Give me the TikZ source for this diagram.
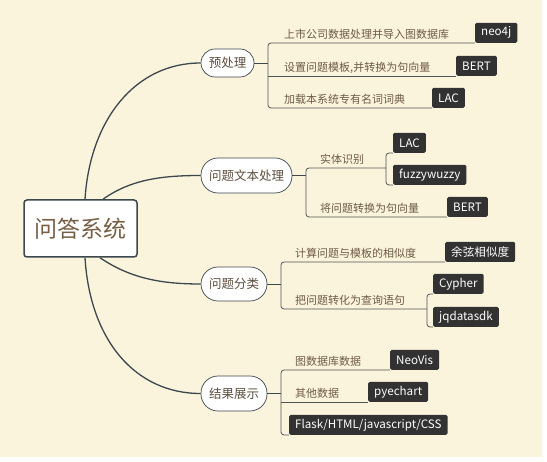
\documentclass[tikz,border=0pt]{standalone}
\usepackage{fontspec}
\setmainfont{Noto Sans CJK SC}
\definecolor{bg}{HTML}{FBF4DD}
\definecolor{linec}{HTML}{3D474E}
\definecolor{subc}{HTML}{4F5457}
\definecolor{tagc}{HTML}{323232}
\definecolor{txtc}{HTML}{6E5A44}
\definecolor{brc}{HTML}{5E4E3E}
\definecolor{rootc}{HTML}{775F46}
\begin{document}
\begin{tikzpicture}[x=1pt,y=-1pt,
  rootbox/.style={draw=linec, line width=1.5pt, fill=white, rounded corners=3pt, minimum width=113pt, minimum height=57pt, text=rootc, font=\fontsize{23}{26}\selectfont, inner sep=0pt},
  pill/.style={draw=linec, line width=0.7pt, fill=white, rounded corners=14pt, text=brc, font=\fontsize{12.5}{14}\selectfont, inner sep=0pt},
  tag/.style={fill=tagc, rounded corners=1.5pt, text=white, font=\fontsize{11.6}{13}\selectfont, minimum height=20pt, inner xsep=6pt, inner ysep=0pt, anchor=south west},
  lbl/.style={text=txtc, font=\fontsize{11}{13}\selectfont, inner sep=0pt, anchor=base west},
  branch/.style={draw=linec, line width=1.3pt},
  subl/.style={draw=subc, line width=0.8pt, rounded corners=3pt}
]
\useasboundingbox (0,0) rectangle (547,462);
\fill[white] (0,0) rectangle (547,462);
\fill[bg] (0,0) rectangle (542,457);

% root and branches
\node[rootbox] (root) at (80.5,228.5) {问答系统};
\node[pill, minimum width=53pt, minimum height=28pt] (b1) at (227.5,63) {预处理};
\node[pill, minimum width=91pt, minimum height=35pt, rounded corners=17pt] (b2) at (246.5,175.5) {问题文本处理};
\node[pill, minimum width=66pt, minimum height=34pt, rounded corners=17pt] (b3) at (234,284) {问题分类};
\node[pill, minimum width=66pt, minimum height=35pt, rounded corners=17pt] (b4) at (234,393.5) {结果展示};

\draw[branch] ([xshift=4.5pt]root.north) .. controls (90,120) and (135,63) .. (b1.west);
\draw[branch] ([xshift=22.5pt]root.north) .. controls (130,180) and (160,175.5) .. (b2.west);
\draw[branch] ([xshift=19.5pt]root.south) .. controls (130,278) and (160,284) .. (b3.west);
\draw[branch] ([xshift=4.5pt]root.south) .. controls (90,340) and (135,393.5) .. (b4.west);

% bracket x positions
\coordinate (k1) at (268,0);
\coordinate (k2) at (306,0);
\coordinate (k2b) at (386,0);
\coordinate (k3) at (281,0);
\coordinate (k3b) at (427,0);
\coordinate (k4) at (281,0);

% ---- 预处理
\node[tag] (n1) at (475,43) {neo4j};
\node[tag] (n2) at (456,76) {BERT};
\node[tag] (n3) at (432,108) {LAC};
\node[lbl] (t1) at (284,39) {上市公司数据处理并导入图数据库};
\node[lbl] (t2) at (284,72) {设置问题模板,并转换为句向量};
\node[lbl] (t3) at (284,104) {加载本系统专有名词词典};
\draw[subl] (n1.south west) -- (k1 |- n1.south west) -- (k1 |- n3.south west) -- (n3.south west);
\draw[subl] (k1 |- n2.south west) -- (n2.south west);
\draw[branch, line width=0.9pt] (b1.east) -- (k1 |- b1.east);

% ---- 问题文本处理
\node[tag] (n4) at (393,153) {LAC};
\node[tag] (n5) at (393,185) {fuzzywuzzy};
\node[tag] (n6) at (447,217) {BERT};
\node[lbl] (t4) at (320,164) {实体识别};
\node[lbl] (t5) at (320,213) {将问题转换为句向量};
\coordinate (j2) at (386,168);
\draw[subl] (j2) -- (k2 |- j2) -- (k2 |- n6.south west) -- (n6.south west);
\draw[subl] (n4.south west) -- (k2b |- n4.south west) -- (k2b |- n5.south west) -- (n5.south west);
\draw[branch, line width=0.9pt] (b2.east) -- (k2 |- b2.east);

% ---- 问题分类
\node[tag] (n7) at (445,262) {余弦相似度};
\node[tag] (n8) at (433,294) {Cypher};
\node[tag] (n9) at (433,327) {jqdatasdk};
\node[lbl] (t6) at (295,258) {计算问题与模板的相似度};
\node[lbl] (t7) at (295,305) {把问题转化为查询语句};
\coordinate (j3) at (427,309);
\draw[subl] (n7.south west) -- (k3 |- n7.south west) -- (k3 |- j3) -- (j3);
\draw[subl] (n8.south west) -- (k3b |- n8.south west) -- (k3b |- n9.south west) -- (n9.south west);
\draw[branch, line width=0.9pt] (b3.east) -- (k3 |- b3.east);

% ---- 结果展示
\node[tag] (n10) at (390,370) {NeoVis};
\node[tag] (n11) at (368,402) {pyechart};
\node[tag] (n12) at (289,435) {Flask/HTML/javascript/CSS};
\node[lbl] (t8) at (295,366) {图数据库数据};
\node[lbl] (t9) at (295,398) {其他数据};
\draw[subl] (n10.south west) -- (k4 |- n10.south west) -- (k4 |- n12.south west) -- (n12.south west);
\draw[subl] (k4 |- n11.south west) -- (n11.south west);
\draw[branch, line width=0.9pt] (b4.east) -- (k4 |- b4.east);
\end{tikzpicture}
\end{document}
